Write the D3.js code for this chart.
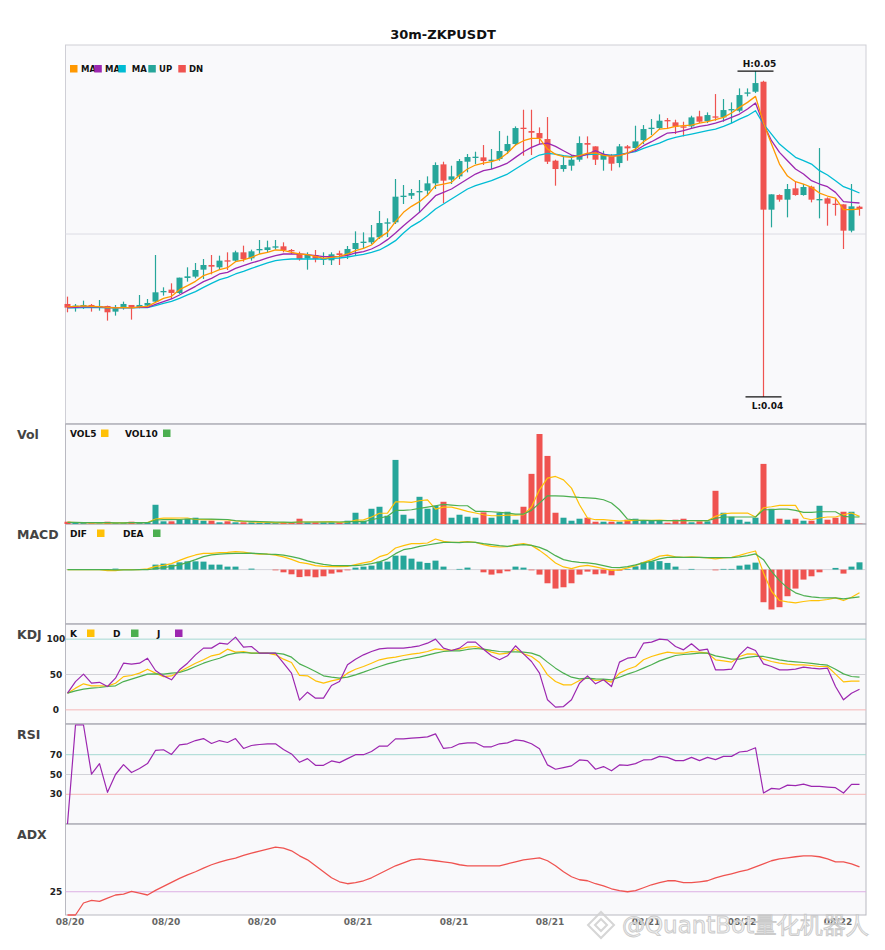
<!DOCTYPE html>
<html>
<head>
<meta charset="utf-8">
<title>30m-ZKPUSDT</title>
<script src="https://cdn.jsdelivr.net/npm/d3@7"></script>
<style>
  body { margin: 0; background: #fff; }
  text { font-family: "DejaVu Sans", sans-serif; }
</style>
</head>
<body>
<div id="chart"></div>
<script>
// ---- candle data (30m bars) ----
var open = [0.04279,0.04268,0.04271,0.04276,0.04268,0.04273,0.04256,0.04268,0.04276,0.04268,
  0.04274,0.04286,0.04315,0.04322,0.04312,0.04357,0.04361,0.04382,0.04396,0.04389,
  0.04410,0.04409,0.04434,0.04416,0.04441,0.04441,0.04448,0.04452,0.04441,0.04429,
  0.04416,0.04426,0.04412,0.04410,0.04431,0.04427,0.04444,0.04462,0.04464,0.04479,
  0.04520,0.04524,0.04600,0.04604,0.04614,0.04619,0.04641,0.04698,0.04652,0.04662,
  0.04706,0.04718,0.04719,0.04709,0.04714,0.04738,0.04759,0.04808,0.04798,0.04792,
  0.04774,0.04709,0.04684,0.04694,0.04712,0.04762,0.04752,0.04712,0.04722,0.04702,
  0.04752,0.04747,0.04771,0.04804,0.04807,0.04831,0.04824,0.04812,0.04812,0.04842,
  0.04828,0.04842,0.04839,0.04860,0.04859,0.04910,0.04916,0.04946,0.04562,0.04606,
  0.04592,0.04626,0.04606,0.04631,0.04590,0.04596,0.04580,0.04578,0.04499,0.04571];
var high = [0.04301,0.04279,0.04289,0.04279,0.04291,0.04274,0.04276,0.04286,0.04276,0.04306,
  0.04294,0.04426,0.04329,0.04341,0.04358,0.04389,0.04402,0.04414,0.04426,0.04424,
  0.04434,0.04439,0.04454,0.04442,0.04471,0.04469,0.04471,0.04464,0.04444,0.04436,
  0.04434,0.04441,0.04434,0.04434,0.04439,0.04453,0.04497,0.04494,0.04516,0.04558,
  0.04536,0.04654,0.04636,0.04624,0.04651,0.04662,0.04704,0.04706,0.04694,0.04714,
  0.04729,0.04736,0.04756,0.04744,0.04798,0.04784,0.04812,0.04862,0.04862,0.04809,
  0.04840,0.04712,0.04724,0.04726,0.04782,0.04782,0.04752,0.04739,0.04729,0.04759,
  0.04756,0.04814,0.04816,0.04834,0.04848,0.04837,0.04832,0.04826,0.04844,0.04859,
  0.04854,0.04909,0.04894,0.04884,0.04926,0.04926,0.04978,0.04949,0.04608,0.04608,
  0.04639,0.04646,0.04639,0.04634,0.04747,0.04599,0.04596,0.04578,0.04639,0.04574];
var low = [0.04254,0.04256,0.04264,0.04256,0.04259,0.04229,0.04244,0.04262,0.04232,0.04266,
  0.04270,0.04284,0.04304,0.04294,0.04309,0.04346,0.04356,0.04354,0.04368,0.04384,
  0.04381,0.04406,0.04406,0.04409,0.04429,0.04434,0.04442,0.04434,0.04429,0.04409,
  0.04382,0.04404,0.04396,0.04396,0.04396,0.04414,0.04424,0.04446,0.04459,0.04474,
  0.04480,0.04519,0.04579,0.04594,0.04554,0.04604,0.04624,0.04582,0.04639,0.04654,
  0.04674,0.04699,0.04696,0.04684,0.04709,0.04729,0.04754,0.04724,0.04726,0.04759,
  0.04699,0.04634,0.04676,0.04679,0.04706,0.04716,0.04696,0.04679,0.04679,0.04689,
  0.04709,0.04736,0.04759,0.04786,0.04802,0.04804,0.04789,0.04782,0.04806,0.04822,
  0.04822,0.04829,0.04826,0.04822,0.04854,0.04902,0.04912,0.04000,0.04509,0.04586,
  0.04539,0.04604,0.04604,0.04584,0.04536,0.04514,0.04544,0.04444,0.04494,0.04544];
var close = [0.04268,0.04274,0.04276,0.04268,0.04273,0.04254,0.04266,0.04279,0.04268,0.04276,
  0.04282,0.04314,0.04318,0.04312,0.04358,0.04362,0.04381,0.04396,0.04391,0.04409,
  0.04407,0.04434,0.04414,0.04437,0.04444,0.04449,0.04452,0.04441,0.04437,0.04414,
  0.04426,0.04414,0.04416,0.04428,0.04426,0.04444,0.04462,0.04466,0.04479,0.04522,
  0.04524,0.04601,0.04604,0.04612,0.04618,0.04641,0.04696,0.04649,0.04662,0.04708,
  0.04720,0.04721,0.04708,0.04712,0.04738,0.04759,0.04807,0.04805,0.04793,0.04776,
  0.04706,0.04684,0.04696,0.04712,0.04762,0.04757,0.04712,0.04729,0.04700,0.04752,
  0.04746,0.04767,0.04804,0.04808,0.04829,0.04828,0.04811,0.04808,0.04839,0.04826,
  0.04846,0.04839,0.04861,0.04864,0.04906,0.04914,0.04942,0.04562,0.04608,0.04592,
  0.04624,0.04606,0.04630,0.04592,0.04594,0.04580,0.04577,0.04499,0.04572,0.04564];

// moving averages on price
var ma5 = [0.04270,0.04272,0.04273,0.04272,0.04271,0.04269,0.04267,0.04269,0.04267,0.04270,0.04272,
  0.04284,0.04296,0.04302,0.04322,0.04334,0.04347,0.04364,0.04372,0.04382,0.04388,
  0.04406,0.04411,0.04419,0.04429,0.04434,0.04441,0.04440,0.04434,0.04429,0.04427,
  0.04422,0.04416,0.04419,0.04422,0.04429,0.04439,0.04446,0.04456,0.04479,0.04494,
  0.04526,0.04554,0.04572,0.04586,0.04606,0.04634,0.04639,0.04644,0.04666,0.04684,
  0.04696,0.04702,0.04706,0.04714,0.04732,0.04756,0.04769,0.04776,0.04776,0.04744,
  0.04728,0.04721,0.04719,0.04724,0.04732,0.04732,0.04725,0.04722,0.04724,0.04732,
  0.04744,0.04766,0.04782,0.04804,0.04806,0.04812,0.04814,0.04816,0.04822,0.04826,
  0.04832,0.04839,0.04852,0.04869,0.04884,0.04902,0.04822,0.04759,0.04699,0.04663,
  0.04646,0.04639,0.04629,0.04612,0.04603,0.04597,0.04562,0.04562,0.04564];
var ma10 = [0.04268,0.04269,0.04270,0.04270,0.04270,0.04269,0.04268,0.04268,0.04268,0.04269,0.04269,
  0.04278,0.04286,0.04294,0.04306,0.04319,0.04332,0.04346,0.04356,0.04369,0.04374,
  0.04386,0.04394,0.04402,0.04409,0.04417,0.04424,0.04429,0.04429,0.04429,0.04427,
  0.04424,0.04421,0.04421,0.04422,0.04425,0.04432,0.04436,0.04444,0.04456,0.04472,
  0.04492,0.04514,0.04534,0.04554,0.04579,0.04604,0.04614,0.04624,0.04639,0.04654,
  0.04669,0.04679,0.04684,0.04692,0.04702,0.04719,0.04736,0.04749,0.04759,0.04762,
  0.04752,0.04739,0.04726,0.04721,0.04729,0.04739,0.04729,0.04722,0.04726,0.04732,
  0.04739,0.04754,0.04766,0.04779,0.04792,0.04794,0.04799,0.04806,0.04812,0.04816,
  0.04822,0.04829,0.04839,0.04849,0.04864,0.04882,0.04819,0.04769,0.04734,0.04709,
  0.04684,0.04669,0.04649,0.04639,0.04631,0.04614,0.04586,0.04584,0.04582];
var ma20 = [0.04267,0.04267,0.04268,0.04268,0.04268,0.04267,0.04267,0.04267,0.04267,0.04268,0.04268,
  0.04274,0.04281,0.04287,0.04296,0.04306,0.04316,0.04329,0.04341,0.04352,0.04359,
  0.04369,0.04377,0.04386,0.04394,0.04402,0.04409,0.04412,0.04414,0.04414,0.04414,
  0.04414,0.04414,0.04416,0.04417,0.04420,0.04424,0.04428,0.04434,0.04441,0.04454,
  0.04469,0.04492,0.04512,0.04526,0.04544,0.04564,0.04579,0.04594,0.04609,0.04624,
  0.04634,0.04642,0.04649,0.04659,0.04669,0.04684,0.04699,0.04714,0.04726,0.04731,
  0.04729,0.04724,0.04721,0.04724,0.04727,0.04729,0.04728,0.04726,0.04728,0.04732,
  0.04736,0.04746,0.04754,0.04762,0.04772,0.04779,0.04784,0.04789,0.04794,0.04799,
  0.04804,0.04812,0.04822,0.04834,0.04844,0.04859,0.04819,0.04789,0.04759,0.04739,
  0.04719,0.04709,0.04699,0.04679,0.04666,0.04649,0.04631,0.04622,0.04612];

// volume and its averages
var vol = [23,10,10,7,7,23,10,10,23,10,
  17,193,27,27,43,53,63,33,33,17,
  27,17,17,17,17,10,10,17,10,53,
  17,17,17,17,17,33,113,33,153,173,
  83,643,93,53,273,153,183,223,63,93,
  73,63,117,63,110,123,43,173,503,903,
  683,113,63,33,53,63,23,23,23,23,
  43,53,33,33,37,13,43,53,17,27,
  27,333,113,73,43,23,63,603,153,53,
  43,53,33,33,183,43,63,123,123,3];
var vol5 = [20,15,13,12,10,11,11,11,14,14,15,
  50,58,58,60,60,45,43,43,43,40,
  30,25,20,18,16,14,14,13,20,20,
  20,22,23,17,20,38,42,70,108,110,
  222,222,217,233,243,150,170,170,150,127,
  110,93,83,83,90,90,93,170,343,460,
  477,443,360,193,60,43,43,37,30,33,
  37,37,37,40,33,33,33,33,33,33,
  77,103,110,110,110,70,163,173,187,187,
  187,60,43,60,70,70,93,110,77];
var vol10 = [17,17,15,14,13,13,12,12,13,13,13,
  40,43,43,45,50,50,50,48,47,45,
  33,30,27,25,22,20,18,17,20,20,
  20,20,20,20,23,23,23,43,60,77,
  137,137,143,157,170,183,197,190,183,183,
  127,127,123,117,110,100,100,137,210,283,
  283,280,273,267,263,257,243,210,143,50,
  40,37,33,33,33,33,33,33,33,33,
  57,70,70,70,70,70,143,143,150,150,
  137,117,117,123,123,123,77,70,70];

// MACD (x 1e-5)
var dif = [0,0,0,0,0,-1,-1,0,0,0,0.7,
  3.3,4.3,6,9.3,12.3,14.7,16.3,16.3,17,17.3,
  18,17.5,16.3,15.5,15.5,14.5,12.8,10.3,7.3,6,
  4,3.3,3,3,3.3,5,6.7,8.3,13,15.3,
  21.7,24,26,26,26.7,30.7,28.3,27.3,27.5,28,
  27.3,25,23.3,22.7,23,25,26,24.3,19.3,13.3,
  6.7,2.7,1,3.3,4.3,2.7,1,-0.7,-0.3,1.7,
  4,7.3,10,13.5,14.5,12.7,12.3,12.7,12.3,11.7,
  10.7,11.7,12.3,14.3,16.7,18.7,-3.3,-21.7,-31,-32.3,
  -33.3,-32,-31,-31,-30,-28.3,-31,-27.7,-23.3];
var dea = [0,0,0,0,0,0,-0.3,-0.3,-0.3,0,0,
  1,2,3.3,4.7,7.3,10,13,14.8,15.5,16,
  16.2,16.3,16.5,16,15.5,15.2,14.5,13,11.3,8.7,
  6.7,5.3,4.3,4,4,4,4.7,6,7.8,10.8,
  16,20,21.3,23.3,24.7,26,27.3,27.3,27,27.7,
  27.3,26,25,24,23.3,24.3,25,24.3,22.3,19,
  14,10,8.3,7.3,6.7,5.7,4,2.3,2,3,
  4.7,6.7,8.3,10.7,12.2,12.5,12.3,12.3,12.3,12,
  12,12,12,12.7,14,15.7,10,-1.7,-11,-18.3,
  -23.3,-26,-27.3,-28,-28.3,-28.3,-29.3,-28.3,-27.3];
var hist = [0,0,0,0,0,0,1,0,0,0,0,
  5,6,5,7.3,8.3,8.3,8,5,5,3,
  3,0,1,0,0,-0.7,-2.7,-4.7,-7.5,-6.7,
  -7.7,-6.7,-4,-2.7,-0.7,2,3,4,8,8,
  14,14,11,8,6.7,9,3,0,0.7,2,
  0,-2.7,-5,-3.7,-1.7,3,2,-0.7,-5,-13.7,
  -19,-17.7,-13.7,-5,-2,-4.7,-4,-5.7,-1,0.7,
  3.3,7.3,8.3,8.5,6.7,3,0,0.7,0,0,
  -0.7,0.7,0.7,4,5,7,-32.7,-40,-37.7,-26.7,
  -19,-10,-6.7,-2.7,0,1.7,-4,3,7.3];

// KDJ
var kK = [23.6,30.7,36.8,34,34,33.5,37.7,47,48.6,51.9,
  57.5,51.9,47,48,54,60,66,70.8,76.4,78.8,
  85.8,81.6,82.5,80.2,80.2,80.2,77.8,71.7,67,48.8,
  48.1,41,37.7,41,43.4,51.9,57.5,61.3,66,70.8,
  73.1,74.5,76.9,78.8,80.2,82.5,86.3,84.9,84,85.8,
  88.7,89.6,85.8,81.6,78.8,80.2,85.8,79.2,75.5,67,
  49.5,40.1,35.4,35.4,41.5,45,41.5,42.5,39.2,51.9,
  57.5,61.3,70.8,75.5,78.8,81.6,80.2,80.2,82.5,81.6,
  80.2,70.8,69.3,67.5,75.5,79.2,78.8,71.7,68.4,66,
  64.6,63.7,63.7,62.7,61.3,61.3,50.5,39.6,40.6,40.6];
var kD = [23.6,26.9,29.2,30.7,31.6,33,34,40,43.4,47,
  50.5,51,50.5,52,52.8,56.6,61.3,66,69.8,73,
  77.8,80.2,81.1,80.2,80.2,80.2,80.2,78.8,74.5,65,
  59.9,54.2,48.1,46.2,44.8,46.2,49.5,53.3,57.5,61.3,
  65.1,67.9,70.8,72.6,74.5,77.4,80.2,82.5,83.5,83.5,
  85.4,86.8,85.8,84,82.5,82.1,82.1,81.6,80.2,76.4,
  67.5,59,51.9,46.2,43.9,44.8,43.9,43.4,42.5,46.2,
  50.5,54.2,59,63.7,69.3,73.1,76.9,78.3,79.2,80.2,
  80.2,76.4,74.1,71.7,71.7,74.1,75.5,75.5,73.1,70.8,
  68.9,67.9,67,65.6,64.2,63.2,57.5,50.9,47.2,46.2];
var kJ = [23.6,40,50.5,37.7,39,33,44.8,66,64.6,66,
  73,55.7,48,42.5,56.6,66,77.8,87.3,87.3,94.3,
  93,102.8,88.7,89.6,80.2,80.2,80.2,66,52,13.7,
  25,16.5,16.5,34.4,40.1,63.7,71.7,77.8,82.5,86.3,
  87.3,87.3,87.3,88.7,90.6,94.3,100,87.3,84,87.3,
  95.8,95.8,85.8,76.4,70.8,76.4,90.6,79.2,68.4,51.9,
  14.2,3.8,4.7,14.2,37.7,48,36.8,42.5,33,67.5,
  73.1,74.5,94.3,95.8,100,99,89.6,84.9,93.4,84,
  85.8,56.6,56.6,57.5,77.8,88.7,84,65.1,61.3,56.6,
  56.6,57.5,60.4,59,58,59,33,14.2,23.6,29.2];

// RSI
var rsi = [0,100,100,50.3,61,32,50,60,52,56,
  61,74.3,75,70.3,80,81,84.3,86.3,81.3,84.3,
  82.3,86.3,76.3,79.3,80.3,81,81,75.3,70.8,62.3,
  66,59.3,59.3,63.7,62,66,70,70,73.3,78.7,
  78.7,86,86,86.7,87.3,88,91,76.3,77.3,81,
  82,82,78,78,81,82,85,84,81,76,
  59.7,55.3,57,58.7,64.7,64,55.3,58,53.7,59.7,
  59.3,61,64.7,65,68.3,67.3,64,64,67.3,64,
  67.3,65,68.3,68.3,72.7,73.7,77,31.3,36,35.3,
  39.3,38.7,40.3,38,38,37.3,36.7,31.3,40,40];

// ADX
var adx = [0,0,12.9,15.7,14.6,18.2,21.5,22.5,25.3,23.6,
  21.5,26.4,30.7,35,39.3,43.2,46.5,50.4,54,56.9,
  59.3,61.2,64,66.5,68.7,70.8,73,71.9,69,63.6,
  59.3,52.9,46.5,40,35.7,33.6,34.7,36.8,40,44.3,
  48.6,52.9,56.1,59.3,60.4,59.3,58.3,57.2,56.1,54,
  52.9,52.9,52.9,52.9,52.9,55,57.2,59.3,60.4,61.5,
  58.3,52.9,46.5,41.1,37.9,36.8,33.6,31.4,28.2,26.1,
  25,26.1,29.3,32.5,34.7,36.8,36.8,34.7,34.7,35.7,
  36.8,40,42.2,44.3,46.5,48.6,51.8,55,58.3,60.4,
  61.5,62.6,63.6,63.6,62.6,60.4,57.2,57.2,55,51.8];

// time axis labels (every 12 bars = 6h)
var tickIndex = [0, 12, 24, 36, 48, 60, 72, 84, 96];
var tickLabels = ["08/20","08/20","08/20","08/21","08/21","08/21","08/21","08/22","08/22"];

// ---- colors ----
var UP = "#26a69a", DN = "#ef5350";
var cMA5 = "#ff9800", cMA10 = "#9c27b0", cMA20 = "#00bcd4";
var cYel = "#ffc107", cGrn = "#4caf50", cPur = "#9c27b0";

var width = 885, height = 950;
var left = 65.5, right = 866;

var svg = d3.select("#chart").append("svg")
  .attr("width", width).attr("height", height);

var idx = d3.range(open.length);
var x = d3.scaleLinear().domain([0, idx.length - 1]).range([67.5, 859.5]);

// panel rows: [top, bottom]
var rows = {
  main: [45, 424], vol: [424, 524], macd: [524, 624],
  kdj: [624, 724], rsi: [724, 824], adx: [824, 915]
};

// backgrounds + borders
Object.keys(rows).forEach(function (k) {
  var r = rows[k];
  svg.append("rect")
    .attr("x", left).attr("y", r[0])
    .attr("width", right - left).attr("height", r[1] - r[0])
    .attr("fill", "#f9f9fb")
    .attr("stroke", k === "main" ? "#cfcfd6" : "#b9b9c1")
    .attr("stroke-width", 1);
});
["vol", "macd", "kdj", "rsi", "adx"].forEach(function (k) {
  svg.append("line")
    .attr("x1", left).attr("x2", right)
    .attr("y1", rows[k][0]).attr("y2", rows[k][0])
    .attr("stroke", "#a9a9b1").attr("stroke-width", 1.2);
});

// ---- title ----
svg.append("text").attr("x", 443).attr("y", 39)
  .attr("text-anchor", "middle").attr("font-size", 13).attr("font-weight", "bold")
  .attr("fill", "#111").text("30m-ZKPUSDT");

// panel names
[["Vol", "vol"], ["MACD", "macd"], ["KDJ", "kdj"], ["RSI", "rsi"], ["ADX", "adx"]].forEach(function (p) {
  svg.append("text").attr("x", 17).attr("y", rows[p[1]][0] + 15)
    .attr("font-size", 12.5).attr("font-weight", "bold").attr("fill", "#444")
    .text(p[0]);
});

// ---- main price panel ----
var lo = d3.min(low), hi = d3.max(high), pad = (hi - lo) * 0.08;
var yP = d3.scaleLinear().domain([lo - pad, hi + pad]).range([rows.main[1] - 1, rows.main[0]]);

var mid = d3.mean(yP.domain());
svg.append("line").attr("x1", left).attr("x2", right)
  .attr("y1", yP(mid)).attr("y2", yP(mid))
  .attr("stroke", "#dcdce4").attr("stroke-width", 1);

function col(i) { return close[i] >= open[i] ? UP : DN; }

var gc = svg.append("g");
gc.selectAll("line.wick").data(idx).join("line").attr("class", "wick")
  .attr("x1", function (i) { return x(i); }).attr("x2", function (i) { return x(i); })
  .attr("y1", function (i) { return yP(high[i]); }).attr("y2", function (i) { return yP(low[i]); })
  .attr("stroke", col).attr("stroke-width", 1.2);
gc.selectAll("rect.body").data(idx).join("rect").attr("class", "body")
  .attr("x", function (i) { return x(i) - 3; }).attr("width", 6)
  .attr("y", function (i) { return yP(Math.max(open[i], close[i])); })
  .attr("height", function (i) { return Math.max(1.3, Math.abs(yP(open[i]) - yP(close[i]))); })
  .attr("fill", col);

function drawLine(data, yS, color, w) {
  var ln = d3.line().x(function (d, i) { return x(i); }).y(function (d) { return yS(d); });
  svg.append("path").datum(data).attr("d", ln)
    .attr("fill", "none").attr("stroke", color).attr("stroke-width", w || 1.3)
    .attr("stroke-linejoin", "round");
}
drawLine(ma20, yP, cMA20);
drawLine(ma10, yP, cMA10);
drawLine(ma5, yP, cMA5);

// high / low markers
var hiI = d3.maxIndex(high), loI = d3.minIndex(low);
svg.append("line").attr("x1", x(hiI) - 18).attr("x2", x(hiI) + 18)
  .attr("y1", yP(high[hiI])).attr("y2", yP(high[hiI])).attr("stroke", "#111").attr("stroke-width", 1.2);
svg.append("text").attr("x", x(hiI) + 4).attr("y", yP(high[hiI]) - 4)
  .attr("text-anchor", "middle").attr("font-size", 9).attr("font-weight", "bold").attr("fill", "#111")
  .text("H:" + high[hiI].toFixed(2));
svg.append("line").attr("x1", x(loI) - 18).attr("x2", x(loI) + 18)
  .attr("y1", yP(low[loI])).attr("y2", yP(low[loI])).attr("stroke", "#111").attr("stroke-width", 1.2);
svg.append("text").attr("x", x(loI) + 4).attr("y", yP(low[loI]) + 12)
  .attr("text-anchor", "middle").attr("font-size", 9).attr("font-weight", "bold").attr("fill", "#111")
  .text("L:" + low[loI].toFixed(2));

// main legend (box first, text after; next box overlaps)
var mainLegend = [
  { c: cMA5, t: "MA", bx: 70, tx: 81 },
  { c: cMA10, t: "MA", bx: 94.3, tx: 105 },
  { c: cMA20, t: "MA", bx: 118.3, tx: 131.7 },
  { c: UP, t: "UP", bx: 148.3, tx: 159 },
  { c: DN, t: "DN", bx: 178.3, tx: 189 }
];
mainLegend.forEach(function (d) {
  svg.append("text").attr("x", d.tx).attr("y", 72).attr("font-size", 8.5)
    .attr("font-weight", "bold").attr("fill", "#111").text(d.t);
});
mainLegend.forEach(function (d) {
  svg.append("rect").attr("x", d.bx).attr("y", 65).attr("width", 7.5).attr("height", 7.5).attr("fill", d.c);
});

// legend for sub panels: text then box
function subLegend(top, items) {
  items.forEach(function (d) {
    svg.append("text").attr("x", d.tx).attr("y", top + 13).attr("font-size", 9)
      .attr("font-weight", "bold").attr("fill", "#111").text(d.t);
    svg.append("rect").attr("x", d.bx).attr("y", top + 5.5).attr("width", 7.5).attr("height", 7.5).attr("fill", d.c);
  });
}

// ---- volume ----
var yV = d3.scaleLinear().domain([0, d3.max(vol)]).range([rows.vol[1], rows.vol[0] + 10]);
svg.append("g").selectAll("rect").data(idx).join("rect")
  .attr("x", function (i) { return x(i) - 3; }).attr("width", 6)
  .attr("y", function (i) { return yV(vol[i]); })
  .attr("height", function (i) { return yV(0) - yV(vol[i]); })
  .attr("fill", col);
drawLine(vol5, yV, cYel, 1.2);
drawLine(vol10, yV, cGrn, 1.2);
subLegend(rows.vol[0], [
  { t: "VOL5", tx: 70, bx: 101, c: cYel },
  { t: "VOL10", tx: 125, bx: 163, c: cGrn }
]);

// ---- MACD ----
var mExt = d3.extent(dif.concat(dea, hist));
var yM = d3.scaleLinear().domain(mExt).range([609.5, 539]);
svg.append("line").attr("x1", left).attr("x2", right)
  .attr("y1", yM(0)).attr("y2", yM(0)).attr("stroke", "#d4d4da").attr("stroke-width", 1);
svg.append("g").selectAll("rect").data(idx.filter(function (i) { return hist[i] !== 0; })).join("rect")
  .attr("x", function (i) { return x(i) - 3; }).attr("width", 6)
  .attr("y", function (i) { return yM(Math.max(0, hist[i])); })
  .attr("height", function (i) { return Math.abs(yM(hist[i]) - yM(0)); })
  .attr("fill", function (i) { return hist[i] > 0 ? UP : DN; });
drawLine(dif, yM, cYel, 1.2);
drawLine(dea, yM, cGrn, 1.2);
subLegend(rows.macd[0], [
  { t: "DIF", tx: 70, bx: 97, c: cYel },
  { t: "DEA", tx: 123, bx: 153, c: cGrn }
]);

// reference lines + y labels
function refLines(yS, levels) {
  levels.forEach(function (l) {
    svg.append("line").attr("x1", left).attr("x2", right)
      .attr("y1", yS(l.v)).attr("y2", yS(l.v)).attr("stroke", l.c).attr("stroke-width", 1);
    svg.append("text").attr("x", 56).attr("y", yS(l.v)).attr("dy", "0.35em")
      .attr("text-anchor", "middle").attr("font-size", 9).attr("font-weight", "bold")
      .attr("fill", "#222").text(l.v);
  });
}

// ---- KDJ ----
var yK = d3.scaleLinear().domain([-20, 120]).range([724, 625]);
refLines(yK, [{ v: 100, c: "#a6d9d2" }, { v: 50, c: "#d2d2d8" }, { v: 0, c: "#f6b8b8" }]);
drawLine(kK, yK, cYel, 1.2);
drawLine(kD, yK, cGrn, 1.2);
drawLine(kJ, yK, cPur, 1.2);
subLegend(rows.kdj[0], [
  { t: "K", tx: 70, bx: 87, c: cYel },
  { t: "D", tx: 113, bx: 131, c: cGrn },
  { t: "J", tx: 157, bx: 175, c: cPur }
]);

// ---- RSI ----
var yR = d3.scaleLinear().domain([0, 100]).range([824, 725]);
refLines(yR, [{ v: 70, c: "#a6d9d2" }, { v: 50, c: "#d2d2d8" }, { v: 30, c: "#f6b8b8" }]);
drawLine(rsi, yR, cPur, 1.2);

// ---- ADX ----
var yA = d3.scaleLinear().domain([0, 97.8]).range([915, 824]);
refLines(yA, [{ v: 25, c: "#dcb0e4" }]);
drawLine(adx, yA, DN, 1.3);

// ---- time axis ----
svg.append("g").selectAll("text").data(tickIndex).join("text")
  .attr("x", function (i) { return x(i) + 2.5; }).attr("y", 925)
  .attr("text-anchor", "middle").attr("font-size", 9).attr("font-weight", "bold")
  .attr("fill", "#666").text(function (d, k) { return tickLabels[k]; });

// ---- watermark ----
var wm = svg.append("g").attr("opacity", 0.9);
wm.append("path").attr("d", "M601,912 L614,925 L601,938 L588,925 Z M601,919 L607,925 L601,931 L595,925 Z")
  .attr("fill", "none").attr("stroke", "#d2d2d2").attr("stroke-width", 2);
wm.append("text").attr("x", 622).attr("y", 933)
  .attr("font-family", "'Noto Sans CJK SC', 'Noto Sans', sans-serif")
  .attr("font-size", 23).attr("fill", "#f4f4f4").attr("stroke", "#c6c6c6").attr("stroke-width", 0.9)
  .text("@QuantBot量化机器人");
</script>
</body>
</html>
